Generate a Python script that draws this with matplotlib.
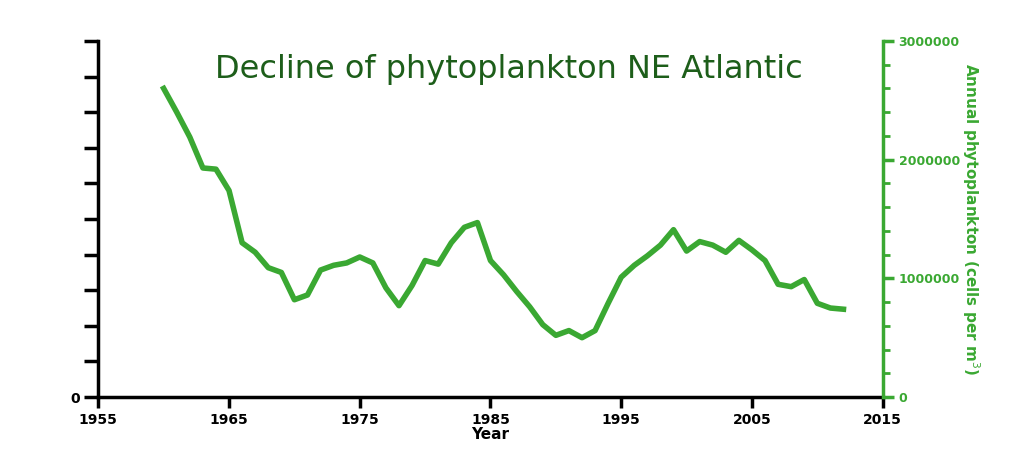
import matplotlib
matplotlib.use("Agg")
import matplotlib.pyplot as plt
from matplotlib.ticker import MultipleLocator

years = list(range(1960, 2013))
cells = [2.60, 2.40, 2.19, 1.93, 1.92, 1.74, 1.30, 1.22, 1.09, 1.05,
         0.82, 0.86, 1.07, 1.11, 1.13, 1.18, 1.13, 0.92, 0.77, 0.94,
         1.15, 1.12, 1.30, 1.43, 1.47, 1.15, 1.03, 0.89, 0.76, 0.61,
         0.52, 0.56, 0.50, 0.56, 0.79, 1.01, 1.11, 1.19, 1.28, 1.41,
         1.23, 1.31, 1.28, 1.22, 1.32, 1.24, 1.15, 0.95, 0.93, 0.99,
         0.79, 0.75, 0.74]
cells = [c * 1e6 for c in cells]
xticks = [1955, 1965, 1975, 1985, 1995, 2005, 2015]

green = "#3aa832"
fig = plt.figure(figsize=(10.24, 4.71), dpi=100)
ax = fig.add_axes([0.096, 0.157, 0.766, 0.756])
ax.set_xlim(1955, 2015)
ax.set_ylim(0, 3e6)
for s in ["top", "right"]:
    ax.spines[s].set_visible(False)
ax.spines["left"].set_linewidth(2.5)
ax.spines["bottom"].set_linewidth(2.5)
ax.set_xticks(xticks)
ax.set_xticklabels([str(x) for x in xticks], fontweight="bold", fontsize=10)
ax.set_yticks([0])
ax.set_yticklabels(["0"], fontweight="bold", fontsize=10)
ax.yaxis.set_minor_locator(MultipleLocator(3e5))
ax.tick_params(axis="y", which="both", length=10, width=2.5)
ax.tick_params(axis="x", length=8, width=2.5)
ax.set_xlabel("Year", fontweight="bold", fontsize=11, labelpad=0)

ax2 = ax.twinx()
ax2.set_ylim(0, 3e6)
for s in ["top", "left", "bottom"]:
    ax2.spines[s].set_visible(False)
ax2.spines["right"].set_color(green)
ax2.spines["right"].set_linewidth(2.5)
ax2.set_yticks([0, 1e6, 2e6, 3e6])
ax2.set_yticklabels(["0", "1000000", "2000000", "3000000"], color=green,
                    fontweight="bold", fontsize=9)
ax2.yaxis.set_minor_locator(MultipleLocator(2e5))
ax2.tick_params(axis="y", which="major", length=8, width=2.5, color=green)
ax2.tick_params(axis="y", which="minor", length=5, width=2, color=green)
ax2.set_ylabel("Annual phytoplankton (cells per m$^3$)", color=green,
               fontweight="bold", fontsize=11, rotation=270, labelpad=16)
ax2.plot(years, cells, color=green, linewidth=4)

ax.text(0.524, 0.92, "Decline of phytoplankton NE Atlantic", transform=ax.transAxes,
        ha="center", va="center", fontsize=23, color="#1d5e1a")
fig.savefig("out.png")
